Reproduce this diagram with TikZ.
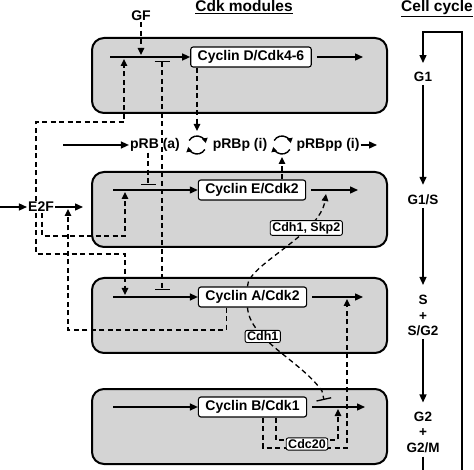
\documentclass[tikz,border=0pt]{standalone}
\usepackage{fontspec}
\setmainfont{Liberation Sans}
\usetikzlibrary{arrows.meta}

\tikzset{
  module/.style={draw, line width=2pt, rounded corners=12pt, fill=black!17},
  cyclin/.style={draw, solid, line width=1.1pt, rounded corners=2.5pt, fill=white, inner xsep=7pt, minimum height=20pt, font=\bfseries\fontsize{14}{16}\selectfont},
  tag/.style={draw, solid, line width=0.9pt, rounded corners=2pt, fill=white, inner xsep=2pt, inner ysep=1.5pt, font=\bfseries\fontsize{12.5}{14}\selectfont},
  lbl/.style={inner sep=1pt, font=\bfseries\fontsize{14}{16}\selectfont},
  phase/.style={align=center, inner sep=1pt, font=\bfseries\fontsize{13.5}{15.5}\selectfont},
  flow/.style={line width=1.4pt, -{Triangle[length=8pt,width=7pt]}},
  reg/.style={line width=1.3pt, dash pattern=on 5pt off 3.5pt},
  act/.style={-{Triangle[length=7pt,width=6.5pt]}},
  inh/.style={-{Bar[width=15pt]}},
  spin/.style={line width=1.4pt, -{Triangle[length=5pt,width=5.5pt]}}
}

\begin{document}
\begin{tikzpicture}[x=1pt, y=-1pt]
  \useasboundingbox (0,0) rectangle (474,470);
  % headers
  \node[anchor=base, font=\bfseries\fontsize{15.5}{17}\selectfont] (hdmod) at (244,11.5) {\underline{Cdk modules}};
  \node[anchor=base west, font=\bfseries\fontsize{15.5}{17}\selectfont, inner sep=0pt] (hdcyc) at (401,11.5) {\underline{Cell cycle}};
  % modules
  \draw[module] (92,38) rectangle (387,113);
  \draw[module] (92,172) rectangle (387,247);
  \draw[module] (92,278) rectangle (387,353);
  \draw[module] (92,389) rectangle (387,464);
  % nodes
  \node[cyclin] (cycD) at (251,57) {Cyclin D/Cdk4-6};
  \node[cyclin] (cycE) at (252,190) {Cyclin E/Cdk2};
  \node[cyclin] (cycA) at (252.5,297) {Cyclin A/Cdk2};
  \node[cyclin] (cycB) at (252.5,407) {Cyclin B/Cdk1};
  \node[lbl] (gf) at (141,16) {GF};
  \node[lbl] (e2f) at (41,207) {E2F};
  \node[lbl] (prba) at (155,145) {pRB (a)};
  \node[lbl] (prbp) at (240,145) {pRBp (i)};
  \node[lbl] (prbpp) at (328,145) {pRBpp (i)};
  \coordinate (spinA) at (197,145);
  \coordinate (spinB) at (282,145);
  % synthesis and output lines
  \draw[flow] (110,57) -- (cycD);
  \draw[flow] (113,190) -- (cycE);
  \draw[flow] (113,297) -- (cycA);
  \draw[flow] (113,407) -- (cycB);
  \draw[flow] ([xshift=5pt]cycD.east) -- (363,57);
  \draw[flow] ([xshift=5pt]cycE.east) -- (358,190);
  \draw[flow] ([xshift=5pt]cycA.east) -- (363,297);
  \draw[flow] ([xshift=5pt]cycB.east) -- (365,407);
  \draw[flow] (0,207) -- (e2f);
  \draw[flow] (e2f) -- (83,207);
  % pRB
  \draw[flow] (63,145) -- (prba);
  \draw[flow] (prbpp) -- (377,145);
  \draw[spin] (spinA) ++(150:9pt) arc[start angle=150, end angle=12, radius=9pt];
  \draw[spin] (spinA) ++(-30:9pt) arc[start angle=-30, end angle=-168, radius=9pt];
  \draw[spin] (spinB) ++(150:9pt) arc[start angle=150, end angle=12, radius=9pt];
  \draw[spin] (spinB) ++(-30:9pt) arc[start angle=-30, end angle=-168, radius=9pt];
  % activations
  \draw[reg, act] (gf) -- (141,55);
  \draw[reg, act] ([xshift=-5pt]e2f.north) |- (124,122) -- (124,59);
  \draw[reg, act] ([xshift=1pt]e2f.south) |- (125,236) -- (125,192);
  \draw[reg, act] ([xshift=-5pt]e2f.south) |- (125,254) -- (125,295);
  \draw[reg, act, shorten >=14pt] ([xshift=-54pt]cycD.south) -- (spinA);
  \draw[reg, act, shorten >=12pt] ([xshift=30pt]cycE.north) -- (spinB);
  \draw[reg, act] ([xshift=-26pt]cycA.south) |- (68,330) -- (68,209);
  \draw[reg, act] ([xshift=-5pt]cycA.north) .. controls (247,265) and (320,235) .. (326,194)
    node[tag, pos=0.7] (skp2) {Cdh1, Skp2};
  \draw[reg, act] ([xshift=23.5pt]cycB.south) |- (338,440) -- (338,409);
  \draw[reg, act] ([xshift=10.5pt]cycB.south) |- (347,448) -- (347,299);
  \node[tag] (cdc20) at (307,444) {Cdc20};
  % inhibitions
  \draw[reg, inh] ([xshift=-7pt]prba.south) -- (148,185);
  \draw[reg, {Bar[width=15pt]}-{Bar[width=15pt]}] (162,61) -- (162,290);
  \draw[reg, inh] ([xshift=-5pt]cycA.south) .. controls (250,340) and (300,360) .. (322,391)
    node[tag, pos=0.33] (cdh1) {Cdh1} -- (324,400);
  % cell cycle
  \node[phase] (g1) at (423,77) {G1};
  \node[phase] (g1s) at (423,200) {G1/S};
  \node[phase] (sg2) at (423,315.5) {S\\+\\S/G2};
  \node[phase] (g2m) at (423,432) {G2\\+\\G2/M};
  \draw[flow, shorten >=8pt] (462,470) -- (462,32) -- (423,32) -- (g1);
  \draw[flow, shorten <=2pt, shorten >=9pt] (g1) -- (g1s);
  \draw[flow, shorten <=2pt, shorten >=9pt] (g1s) -- (sg2);
  \draw[flow, shorten <=2pt, shorten >=8pt] (sg2) -- (g2m);
  \draw[line width=1.4pt, shorten <=3pt] (g2m) -- (423,470);
\end{tikzpicture}
\end{document}
